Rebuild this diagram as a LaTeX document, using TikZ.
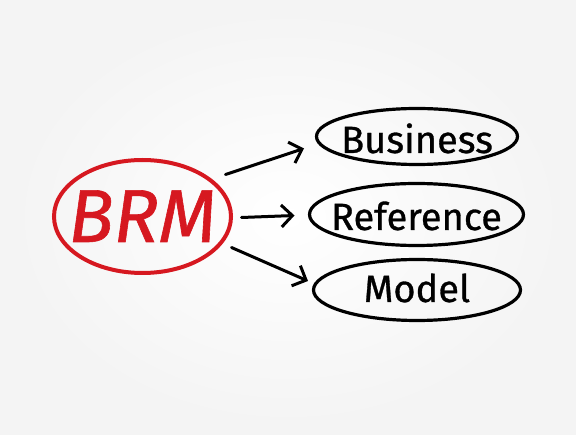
\documentclass[tikz,border=0pt]{standalone}
\usepackage{fontspec}
\newfontfamily\handfont[FakeBold=0.8]{Fira Sans}
\usetikzlibrary{shapes.geometric,arrows.meta}
\definecolor{brmred}{RGB}{214,24,32}
\newcommand{\lbltxt}[2]{\makebox[0pt]{\raisebox{#1}[0pt][0pt]{#2}}}
\begin{document}
\begin{tikzpicture}[x=1pt,y=-1pt,
  bubble/.style={ellipse,draw=black,line width=3.2pt,inner sep=0pt,outer sep=0pt,
    font=\handfont\fontsize{38}{40}\selectfont},
  redbubble/.style={ellipse,draw=brmred,line width=4pt,inner sep=0pt,outer sep=0pt,
    text=brmred,font=\handfont\itshape\fontsize{75}{78}\selectfont},
  arr/.style={line width=3pt,line cap=round,-{Straight Barb[length=11pt,width=22pt,line width=3pt]}}]
\useasboundingbox (0,0) rectangle (576,435);
\fill[inner color=white,outer color=gray!9] (0,0) rectangle (576,435);
\node[redbubble,minimum width=177pt,minimum height=113pt] (brm) at (142.5,216.5) {\lbltxt{-25.5pt}{BRM}};
\node[bubble,minimum width=201pt,minimum height=56pt] (bus) at (417,136.5) {\lbltxt{-16.5pt}{Business}};
\node[bubble,minimum width=214pt,minimum height=62pt] (ref) at (416.5,214.5) {\lbltxt{-15.5pt}{Reference}};
\node[bubble,minimum width=207pt,minimum height=61pt] (mod) at (417,290) {\lbltxt{-12pt}{Model}};
\draw[arr] ([shift={(83,-42)}]brm.center) -- ([shift={(-113,12)}]bus.center);
\draw[arr] ([shift={(99,1)}]brm.center) -- ([shift={(-122,1)}]ref.center);
\draw[arr] ([shift={(89,31)}]brm.center) -- ([shift={(-109,-9)}]mod.center);
\end{tikzpicture}
\end{document}
